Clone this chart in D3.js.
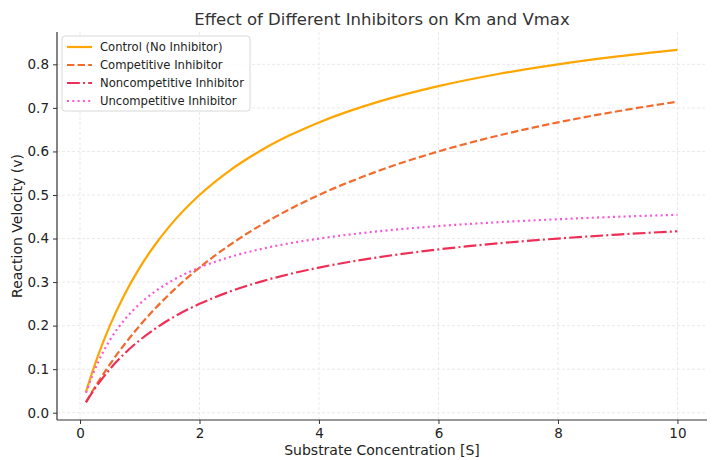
<!DOCTYPE html>
<html><head><meta charset="utf-8">
<script src="https://cdn.jsdelivr.net/npm/d3@7"></script>
<style>body{margin:0;background:#fff;} svg{display:block;font-family:"DejaVu Sans",sans-serif;}</style>
</head><body>
<svg id="c" width="723" height="460"></svg>
<script>
const substrate = [0.1,0.2,0.3,0.5,0.75,1,1.25,1.5,2,2.5,3,3.5,4,5,6,7,8,9,10];
const control = [0.0476,0.0909,0.1304,0.2,0.2727,0.3333,0.3846,0.4286,0.5,0.5556,0.6,0.6364,0.6667,0.7143,0.75,0.7778,0.8,0.8182,0.8333];
const competitive = [0.0244,0.0476,0.0698,0.1111,0.1579,0.2,0.2381,0.2727,0.3333,0.3846,0.4286,0.4667,0.5,0.5556,0.6,0.6364,0.6667,0.6923,0.7143];
const noncompetitive = [0.0238,0.0455,0.0652,0.1,0.1364,0.1667,0.1923,0.2143,0.25,0.2778,0.3,0.3182,0.3333,0.3571,0.375,0.3889,0.4,0.4091,0.4167];
const uncompetitive = [0.0455,0.0833,0.1154,0.1667,0.2143,0.25,0.2778,0.3,0.3333,0.3571,0.375,0.3889,0.4,0.4167,0.4286,0.4375,0.4444,0.45,0.4545];
const seriesNames = ["Control (No Inhibitor)","Competitive Inhibitor","Noncompetitive Inhibitor","Uncompetitive Inhibitor"];
const xTicks = [0,2,4,6,8,10];
const yTicks = [0,0.1,0.2,0.3,0.4,0.5,0.6,0.7,0.8];

const colors = ["#FFA500","#F26B2C","#EE2F55","#FA55D6"];
const dashes = [null,"7.4,3.2","12.8,3.2,2,3.2","2,3.3"];
const series = [control,competitive,noncompetitive,uncompetitive];

const svg = d3.select("#c");
const L=57, R=707, T=32, B=420;
const x = d3.scaleLinear().domain([-0.385,10.495]).range([L,R]);
const y = d3.scaleLinear().domain([-0.0167,0.8743]).range([B,T]);

// grid
const g = svg.append("g");
g.selectAll(".gx").data(xTicks).join("line")
  .attr("x1",d=>x(d)).attr("x2",d=>x(d)).attr("y1",T).attr("y2",B)
  .attr("stroke","#e3e3e3").attr("stroke-width",0.8).attr("stroke-dasharray","3,2");
g.selectAll(".gy").data(yTicks).join("line")
  .attr("x1",L).attr("x2",R).attr("y1",d=>y(d)).attr("y2",d=>y(d))
  .attr("stroke","#e3e3e3").attr("stroke-width",0.8).attr("stroke-dasharray","3,2");

// axes
const xa = svg.append("g").attr("transform",`translate(0,${B})`)
  .call(d3.axisBottom(x).tickValues(xTicks).tickFormat(d3.format("d")).tickSizeOuter(0).tickSize(4).tickPadding(4));
const ya = svg.append("g").attr("transform",`translate(${L},0)`)
  .call(d3.axisLeft(y).tickValues(yTicks).tickFormat(d3.format(".1f")).tickSizeOuter(0).tickSize(4).tickPadding(4));
[xa,ya].forEach(a=>{
  a.select(".domain").attr("stroke","#333").attr("stroke-width",1.2);
  a.selectAll(".tick line").attr("stroke","#333");
  a.selectAll(".tick text").attr("fill","#222").style("font-size","13.5px").style("font-family","DejaVu Sans");
});
xa.select(".domain").attr("d",`M${L},0H${R}`);
ya.select(".domain").attr("d",`M0,${B}V${T}`);

// lines
const line = d3.line().x((d,i)=>x(substrate[i])).y(d=>y(d)).curve(d3.curveMonotoneX);
series.forEach((s,k)=>{
  svg.append("path").datum(s).attr("d",line).attr("fill","none")
    .attr("stroke",colors[k]).attr("stroke-width",2.2)
    .attr("stroke-dasharray",dashes[k]);
});

// title & labels
svg.append("text").attr("x",(L+R)/2+0).attr("y",25).attr("text-anchor","middle")
  .style("font-size","16.5px").attr("fill","#333").text("Effect of Different Inhibitors on Km and Vmax");
svg.append("text").attr("x",(L+R)/2).attr("y",455).attr("text-anchor","middle")
  .style("font-size","14px").attr("fill","#222").text("Substrate Concentration [S]");
svg.append("text").attr("transform",`translate(22,${(T+B)/2}) rotate(-90)`).attr("text-anchor","middle")
  .style("font-size","14px").attr("fill","#222").text("Reaction Velocity (v)");

// legend
const lg = svg.append("g").attr("transform","translate(62,36)");
lg.append("rect").attr("width",188).attr("height",75).attr("rx",3)
  .attr("fill","#fff").attr("fill-opacity",0.85).attr("stroke","#d8d8d8");
seriesNames.forEach((n,k)=>{
  const yy = 11 + k*18;
  lg.append("line").attr("x1",5).attr("x2",30).attr("y1",yy).attr("y2",yy)
    .attr("stroke",colors[k]).attr("stroke-width",2.2).attr("stroke-dasharray",dashes[k]);
  lg.append("text").attr("x",38).attr("y",yy+4).style("font-size","11.6px").attr("fill","#222").text(n);
});
</script>
</body></html>
